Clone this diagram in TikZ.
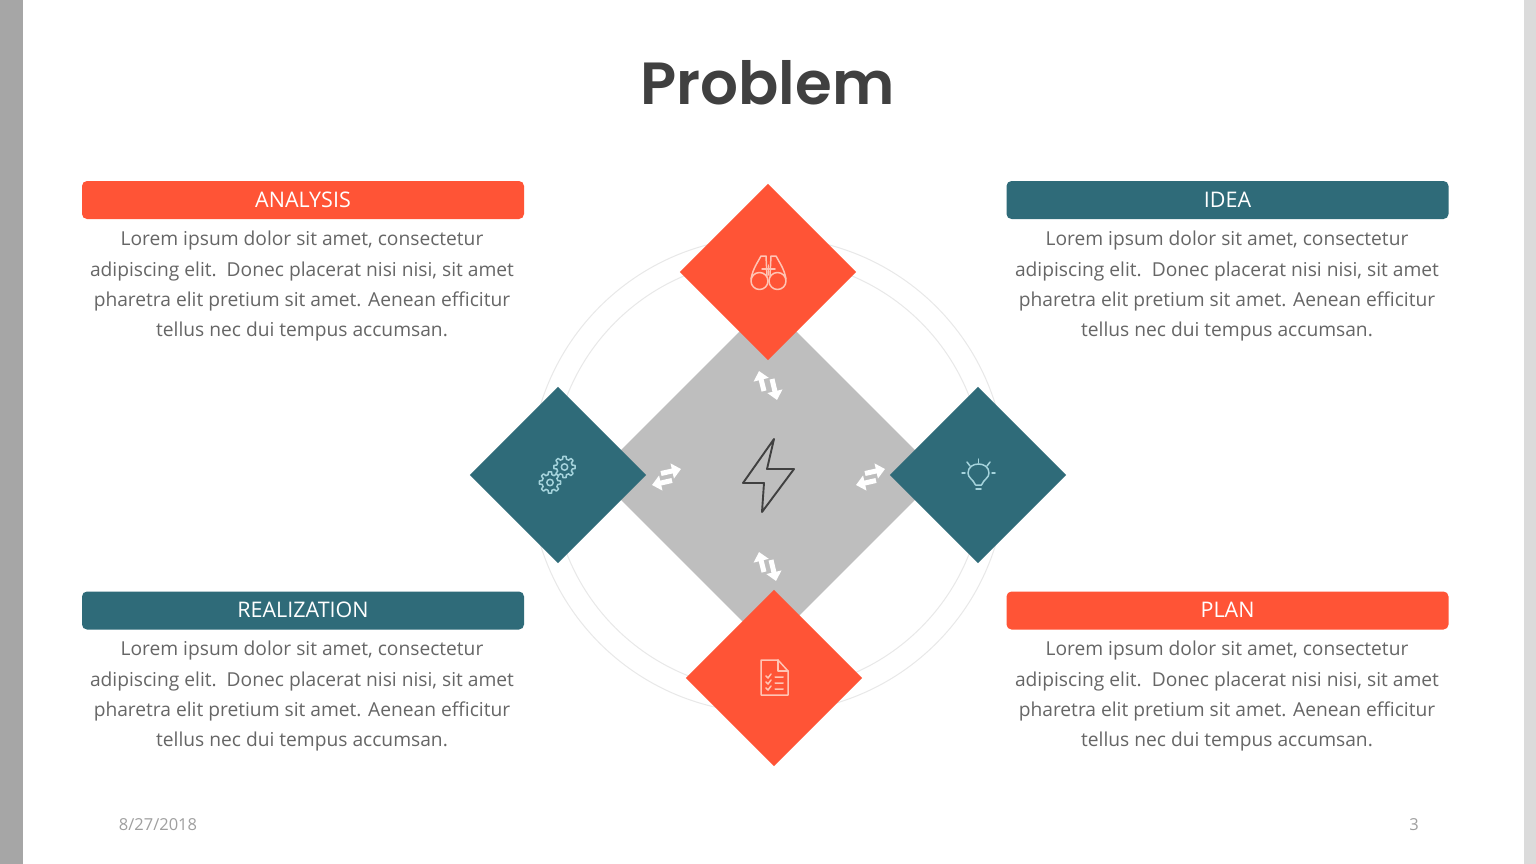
\documentclass[tikz,border=0pt]{standalone}
\usepackage{fontspec}
\setmainfont{Open Sans}
\newfontfamily\titlefont{Poppins SemiBold}
\usetikzlibrary{arrows.meta}
\definecolor{red1}{HTML}{FF5436}
\definecolor{teal1}{HTML}{2F6B79}
\definecolor{grey1}{HTML}{BEBEBE}
\definecolor{ink}{HTML}{404040}
\definecolor{body}{HTML}{666666}
\definecolor{ring}{HTML}{E8E8E8}
\definecolor{icoT}{HTML}{A5D3DC}
\definecolor{icoR}{HTML}{FFC4B4}
\tikzset{
  x=1pt,y=-1pt,
  dia/.style={shape=rectangle,inner sep=0pt,minimum size=124.5pt,rotate=45,fill=#1},
  bar/.style={draw=none,fill=#1,rounded corners=5pt,minimum width=442pt,minimum height=38pt,inner sep=0pt,text=white,text height=14pt,text depth=0pt,font=\fontsize{21.5}{24}\selectfont},
  para/.style={align=center,text=body,font=\fontsize{19.2}{30.4}\selectfont,inner sep=0pt,anchor=north},
  meta/.style={text=gray!75,font=\fontsize{16.5}{18}\selectfont,inner sep=0pt},
  ar/.style={draw=white,line width=5pt,-{Triangle[width=15pt,length=9pt]}},
  icoLine/.style={line width=1.5pt,line cap=round,line join=round}
}
\newcommand{\lorem}{Lorem ipsum dolor sit amet, consectetur\\adipiscing elit.\ \ Donec placerat nisi nisi, sit amet\\pharetra elit pretium sit amet. Aenean efficitur\\tellus nec dui tempus accumsan.}
\begin{document}
\begin{tikzpicture}
\useasboundingbox (0,0) rectangle (1536,864);
\fill[white] (0,0) rectangle (1536,864);
\fill[black!35] (0,0) rectangle (23,864);
\fill[black!14] (1524,0) rectangle (1536,864);
% rings
\draw[ring,line width=1pt] (768,475) circle[radius=238];
\draw[ring,line width=1pt] (768,475) circle[radius=216];
% centre
\node[dia=grey1,minimum size=243pt] (core) at (768,475) {};
\node[dia=red1] (top) at (768,272) {};
\node[dia=teal1] (left) at (558,475) {};
\node[dia=teal1] (right) at (978,475) {};
\node[dia=red1] (bottom) at (774,678) {};
% title
\node[text=ink,font=\titlefont\fontsize{59.5}{64}\selectfont,inner sep=0pt] (title) at (767.5,83) {Problem};
% bars
\node[bar=red1] (b1) at (303,200) {ANALYSIS};
\node[bar=teal1] (b2) at (1227.5,200) {IDEA};
\node[bar=teal1] (b3) at (303,610.5) {REALIZATION};
\node[bar=red1] (b4) at (1227.5,610.5) {PLAN};
\node[para] (p1) at (302,231) {\lorem};
\node[para] (p2) at (1227,231) {\lorem};
\node[para] (p3) at (302,641) {\lorem};
\node[para] (p4) at (1227,641) {\lorem};
\node[meta] (date) at (158,825) {8/27/2018};
\node[meta] (num) at (1414,825) {3};
% bolt
\draw[ink,line width=1.9pt,line join=round] (774,439) -- (743,483) -- (764,483) -- (762,512) -- (794,469) -- (767,469) -- cycle;
% vertical double arrows
\draw[ar] (764,391) -- (759,371);
\draw[ar] (772,379) -- (777,400);
\draw[ar] (764,572) -- (759,552);
\draw[ar] (771,560) -- (776,581);
% horizontal double arrows
\draw[ar] (661,473.5) -- (681,469);
\draw[ar] (672,480.5) -- (652,485);
\draw[ar] (865,473.5) -- (885,469);
\draw[ar] (876,480.5) -- (856,485);
% binoculars
\begin{scope}[draw=icoR,icoLine]
\draw (759.5,281) circle[radius=8.5];
\draw (777.5,281) circle[radius=8.5];
\draw (751,279) .. controls (753,268) and (758,262) .. (761,256) -- (766,256) -- (767,276);
\draw (786,279) .. controls (784,268) and (779,262) .. (776,256) -- (771,256) -- (770,276);
\draw (762,269) -- (775,269);
\draw (768.5,265) -- (768.5,275);
\end{scope}
% document
\begin{scope}[draw=icoR,icoLine]
\draw (761,660) -- (778,660) -- (788,671) -- (788,695) -- (761,695) -- cycle;
\draw (778,660) -- (778,671) -- (788,671);
\draw (766,676) -- (768,678) -- (771,674) (775,677) -- (783,677);
\draw (766,682) -- (768,684) -- (771,680) (775,683) -- (783,683);
\draw (766,688) -- (768,690) -- (771,686) (775,689) -- (783,689);
\end{scope}
% gears
\begin{scope}[draw=icoT,icoLine]
\foreach \cx/\cy in {564.5/467,550/482.5}{
  \draw (\cx,\cy) circle[radius=3.2];
  \foreach \a in {0,45,...,315}{
    \path (\cx,\cy) ++(\a-14:8) coordinate (g1);
    \path (\cx,\cy) ++(\a-8:10.8) coordinate (g2);
    \path (\cx,\cy) ++(\a+8:10.8) coordinate (g3);
    \path (\cx,\cy) ++(\a+14:8) coordinate (g4);
    \path (\cx,\cy) ++(\a+31:8) coordinate (g5);
    \draw (g1) -- (g2) -- (g3) -- (g4) -- (g5);
  }
}
\end{scope}
% bulb
\begin{scope}[draw=icoT,icoLine]
\draw (975.5,485) .. controls (973,479) and (968,478) .. (968,473) .. controls (968,461) and (989,461) .. (989,473) .. controls (989,478) and (984,479) .. (981.5,485) -- cycle;
\draw (976,489) -- (981,489);
\draw (978.5,463) -- (978.5,459);
\draw (970,466) -- (967,462);
\draw (987,466) -- (990,462);
\draw (965,473) -- (962,473);
\draw (992,473) -- (995,473);
\end{scope}
\end{tikzpicture}
\end{document}
